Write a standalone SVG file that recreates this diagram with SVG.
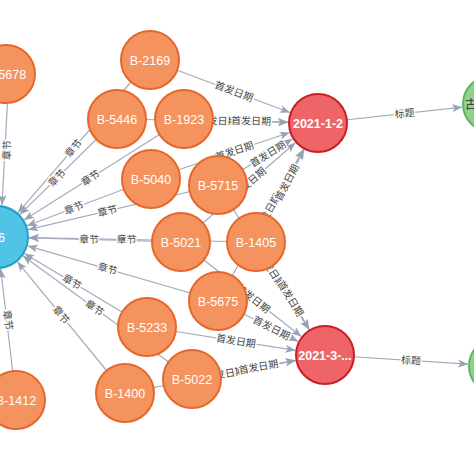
<svg xmlns="http://www.w3.org/2000/svg" width="474" height="474" viewBox="0 0 474 474">
<style>
.e{stroke:#a3abbb;stroke-width:1.2;fill:none;marker-end:url(#ar)}
.l{font-family:"Noto Sans CJK SC","Liberation Sans",sans-serif;font-size:10px;fill:#444;text-anchor:middle;stroke:#fff;stroke-width:3;paint-order:stroke;stroke-linejoin:round}
.o{fill:#f5935f;stroke:#e4672b;stroke-width:2}
.r{fill:#ee6568;stroke:#c81e24;stroke-width:2}
.b{fill:#50c3e6;stroke:#1fa0c6;stroke-width:2}
.g{fill:#8fd28f;stroke:#5cb85c;stroke-width:2}
.t{font-family:"Liberation Sans",Arial,sans-serif;font-size:12.5px;fill:#fff;text-anchor:middle}
.tb{font-weight:bold}
</style>
<defs>
<marker id="ar" markerUnits="userSpaceOnUse" markerWidth="11" markerHeight="9" refX="10" refY="4" orient="auto">
<path d="M0,0 L10,4 L0,8 L2.5,4 Z" fill="#98a2b3"/>
</marker>
</defs>
<g id="edges">
<line class="e" x1="9" y1="74" x2="2" y2="205"/>
<line class="e" x1="150" y1="60" x2="17.9" y2="212.8"/>
<line class="e" x1="117" y1="119" x2="19.8" y2="214.6"/>
<line class="e" x1="184" y1="119" x2="24.1" y2="219.9"/>
<line class="e" x1="151" y1="179" x2="27" y2="225.7"/>
<line class="e" x1="218" y1="185" x2="28.2" y2="229.7"/>
<line class="e" x1="181" y1="242" x2="29" y2="237.9"/>
<line class="e" x1="256" y1="242" x2="29" y2="237.6"/>
<line class="e" x1="218" y1="301" x2="27.7" y2="245.9"/>
<line class="e" x1="147" y1="327" x2="24.4" y2="253.5"/>
<line class="e" x1="192" y1="379" x2="22.9" y2="255.8"/>
<line class="e" x1="125" y1="393" x2="17.3" y2="261.7"/>
<line class="e" x1="16" y1="400" x2="0.7" y2="268.8"/>
<line class="e" x1="150" y1="60" x2="289.9" y2="112.5"/>
<line class="e" x1="117" y1="119" x2="288" y2="122.4"/>
<line class="e" x1="184" y1="119" x2="288" y2="122.1"/>
<line class="e" x1="151" y1="179" x2="289.6" y2="132.5"/>
<line class="e" x1="218" y1="185" x2="292.5" y2="138.8"/>
<line class="e" x1="181" y1="242" x2="295.4" y2="142.7"/>
<line class="e" x1="256" y1="242" x2="304.1" y2="149.6"/>
<line class="e" x1="218" y1="301" x2="303.3" y2="149.2"/>
<line class="e" x1="256" y1="242" x2="309.4" y2="329.4"/>
<line class="e" x1="218" y1="185" x2="309" y2="329.6"/>
<line class="e" x1="181" y1="242" x2="301.4" y2="336.5"/>
<line class="e" x1="218" y1="301" x2="298.2" y2="341.5"/>
<line class="e" x1="147" y1="327" x2="295.4" y2="350.3"/>
<line class="e" x1="192" y1="379" x2="295.5" y2="360.3"/>
<line class="e" x1="125" y1="393" x2="295.5" y2="360.6"/>
<line class="e" x1="318" y1="123" x2="462.2" y2="107.2"/>
<line class="e" x1="325" y1="355" x2="468.1" y2="364.2"/>
<text class="l" dy="0.35em" transform="translate(7,150) rotate(-86.9)">章节</text>
<text class="l" dy="0.35em" transform="translate(73.5,148.5) rotate(-49.2)">章节</text>
<text class="l" dy="0.35em" transform="translate(57,178) rotate(-44.5)">章节</text>
<text class="l" dy="0.35em" transform="translate(90.5,178) rotate(-32.3)">章节</text>
<text class="l" dy="0.35em" transform="translate(74,208) rotate(-20.6)">章节</text>
<text class="l" dy="0.35em" transform="translate(107.5,211) rotate(-13.2)">章节</text>
<text class="l" dy="0.35em" transform="translate(89,239.5) rotate(1.6)">章节</text>
<text class="l" dy="0.35em" transform="translate(126.5,239.5) rotate(1.1)">章节</text>
<text class="l" dy="0.35em" transform="translate(107.5,269) rotate(16.2)">章节</text>
<text class="l" dy="0.35em" transform="translate(72,282) rotate(31)">章节</text>
<text class="l" dy="0.35em" transform="translate(94.5,308) rotate(35.9)">章节</text>
<text class="l" dy="0.35em" transform="translate(61,315) rotate(50.6)">章节</text>
<text class="l" dy="0.35em" transform="translate(8,320) rotate(83.4)">章节</text>
<text class="l" dy="0.35em" transform="translate(234,91.5) rotate(20.6)">首发日期</text>
<text class="l" dy="0.35em" transform="translate(217.5,121) rotate(1.1)">首发日期</text>
<text class="l" dy="0.35em" transform="translate(251,121) rotate(1.7)">首发日期</text>
<text class="l" dy="0.35em" transform="translate(234.5,151) rotate(-18.5)">首发日期</text>
<text class="l" dy="0.35em" transform="translate(268,154) rotate(-31.8)">首发日期</text>
<text class="l" dy="0.35em" transform="translate(249.5,182.5) rotate(-41)">首发日期</text>
<text class="l" dy="0.35em" transform="translate(268,212) rotate(-60.7)">首发日期</text>
<text class="l" dy="0.35em" transform="translate(287,182.5) rotate(-62.5)">首发日期</text>
<text class="l" dy="0.35em" transform="translate(271.5,270) rotate(57.8)">首发日期</text>
<text class="l" dy="0.35em" transform="translate(290.5,298.5) rotate(58.6)">首发日期</text>
<text class="l" dy="0.35em" transform="translate(253,298.5) rotate(38.1)">首发日期</text>
<text class="l" dy="0.35em" transform="translate(271.5,328) rotate(26.8)">首发日期</text>
<text class="l" dy="0.35em" transform="translate(236,341) rotate(8.9)">首发日期</text>
<text class="l" dy="0.35em" transform="translate(225,374) rotate(-10.8)">首发日期</text>
<text class="l" dy="0.35em" transform="translate(258.5,367) rotate(-10.2)">首发日期</text>
<text class="l" dy="0.35em" transform="translate(404.5,113.5) rotate(-6.3)">标题</text>
<text class="l" dy="0.35em" transform="translate(411,360.5) rotate(3.7)">标题</text>
</g>
<g id="n-blue"><circle class="b" cx="-3" cy="237" r="31"/><text class="t" x="5" y="241.5" style="text-anchor:end">6</text></g>
<g id="n-5678"><circle class="o" cx="6" cy="74" r="29"/><text class="t" x="6" y="78.5">B-5678</text></g>
<g id="n-2169"><circle class="o" cx="150" cy="60" r="29"/><text class="t" x="150" y="64.5">B-2169</text></g>
<g id="n-5446"><circle class="o" cx="117" cy="119" r="29"/><text class="t" x="117" y="123.5">B-5446</text></g>
<g id="n-1923"><circle class="o" cx="184" cy="119" r="29"/><text class="t" x="184" y="123.5">B-1923</text></g>
<g id="n-5040"><circle class="o" cx="151" cy="179" r="29"/><text class="t" x="151" y="183.5">B-5040</text></g>
<g id="n-5715"><circle class="o" cx="218" cy="185" r="29"/><text class="t" x="218" y="189.5">B-5715</text></g>
<g id="n-5021"><circle class="o" cx="181" cy="242" r="29"/><text class="t" x="181" y="246.5">B-5021</text></g>
<g id="n-1405"><circle class="o" cx="256" cy="242" r="29"/><text class="t" x="256" y="246.5">B-1405</text></g>
<g id="n-5675"><circle class="o" cx="218" cy="301" r="29"/><text class="t" x="218" y="305.5">B-5675</text></g>
<g id="n-5233"><circle class="o" cx="147" cy="327" r="29"/><text class="t" x="147" y="331.5">B-5233</text></g>
<g id="n-5022"><circle class="o" cx="192" cy="379" r="29"/><text class="t" x="192" y="383.5">B-5022</text></g>
<g id="n-1400"><circle class="o" cx="125" cy="393" r="29"/><text class="t" x="125" y="397.5">B-1400</text></g>
<g id="n-1412"><circle class="o" cx="16" cy="400" r="29"/><text class="t" x="16" y="404.5">B-1412</text></g>
<g id="n-d1"><circle class="r" cx="318" cy="123" r="29"/><text class="t tb" x="318" y="127.5">2021-1-2</text></g>
<g id="n-d2"><circle class="r" cx="325" cy="355" r="29"/><text class="t tb" x="325" y="359.5">2021-3-...</text></g>
<g id="n-g1"><circle class="g" cx="491" cy="104" r="28"/><text x="465" y="108.5" style="font-family:'Noto Sans CJK SC',sans-serif;font-size:12px;fill:#333">古</text></g>
<g id="n-g2"><circle class="g" cx="497" cy="366" r="28"/></g>
</svg>
